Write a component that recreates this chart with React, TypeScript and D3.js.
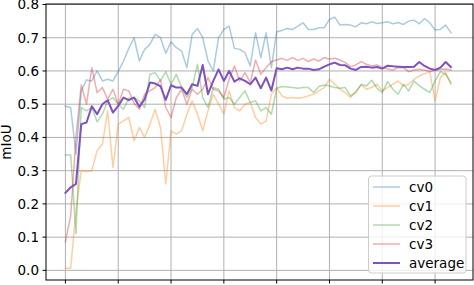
import * as d3 from 'd3';

// evaluated every 2 epochs
const epochs = d3.range(0, 148, 2);

const cv0 = [
  0.494, 0.49, 0.35, 0.54, 0.573, 0.57, 0.6, 0.57, 0.575, 0.57,
  0.598, 0.63, 0.668, 0.7, 0.63, 0.665, 0.68, 0.71, 0.7, 0.653,
  0.688, 0.67, 0.66, 0.61, 0.71, 0.728, 0.7, 0.63, 0.6, 0.7,
  0.725, 0.735, 0.668, 0.665, 0.655, 0.615, 0.715, 0.64, 0.715, 0.61,
  0.718, 0.722, 0.728, 0.725, 0.735, 0.745, 0.725, 0.725, 0.73, 0.73,
  0.755, 0.762, 0.738, 0.74, 0.738, 0.733, 0.745, 0.742, 0.748, 0.743,
  0.745, 0.748, 0.742, 0.746, 0.74, 0.75, 0.753, 0.742, 0.758, 0.745,
  0.723, 0.725, 0.738, 0.715,
];

const cv1 = [
  0.006, 0.006, 0.18, 0.3, 0.297, 0.3, 0.36, 0.38, 0.48, 0.31,
  0.44, 0.45, 0.46, 0.39, 0.43, 0.4, 0.44, 0.485, 0.43, 0.26,
  0.42, 0.41, 0.42, 0.47, 0.51, 0.47, 0.42, 0.48, 0.53, 0.5,
  0.47, 0.54, 0.49, 0.48, 0.5, 0.505, 0.46, 0.44, 0.45, 0.53,
  0.55, 0.525, 0.518, 0.52, 0.518, 0.52, 0.525, 0.53, 0.54, 0.55,
  0.575, 0.56, 0.545, 0.535, 0.52, 0.54, 0.558, 0.545, 0.55, 0.56,
  0.54, 0.55, 0.56, 0.57, 0.555, 0.56, 0.575, 0.585, 0.592, 0.597,
  0.51, 0.58, 0.595, 0.56,
];

const cv2 = [
  0.347, 0.347, 0.11, 0.49, 0.48, 0.49, 0.447, 0.47, 0.51, 0.52,
  0.5, 0.485, 0.518, 0.52, 0.51, 0.49, 0.59, 0.595, 0.57, 0.598,
  0.56, 0.59, 0.55, 0.52, 0.55, 0.62, 0.52, 0.49, 0.55, 0.545,
  0.515, 0.52, 0.5, 0.52, 0.54, 0.505, 0.51, 0.48, 0.49, 0.47,
  0.548, 0.553, 0.552, 0.55, 0.548, 0.55, 0.55, 0.535, 0.553, 0.558,
  0.555, 0.55, 0.548, 0.55, 0.525, 0.535, 0.56, 0.555, 0.572, 0.548,
  0.535, 0.568, 0.545, 0.53, 0.56, 0.54, 0.57, 0.555, 0.545, 0.535,
  0.57, 0.598, 0.59, 0.565,
];

const cv3 = [
  0.086, 0.165, 0.4, 0.558, 0.5, 0.61, 0.535, 0.55, 0.515, 0.545,
  0.5, 0.545, 0.54, 0.503, 0.485, 0.53, 0.54, 0.55, 0.573, 0.49,
  0.46, 0.52, 0.545, 0.5, 0.545, 0.53, 0.545, 0.58, 0.545, 0.54,
  0.52, 0.575, 0.615, 0.57, 0.595, 0.565, 0.633, 0.59, 0.61, 0.628,
  0.633, 0.638, 0.632, 0.64, 0.632, 0.638, 0.628, 0.636, 0.63, 0.64,
  0.636, 0.638, 0.633, 0.625, 0.613, 0.618, 0.628, 0.62, 0.615, 0.618,
  0.61, 0.606, 0.603, 0.61, 0.61, 0.598, 0.603, 0.605, 0.603, 0.598,
  0.602, 0.605, 0.606, 0.603,
];

const average = [
  0.233, 0.25, 0.26, 0.44, 0.445, 0.494, 0.47, 0.5, 0.512, 0.475,
  0.495, 0.52, 0.512, 0.52, 0.492, 0.515, 0.565, 0.562, 0.554, 0.513,
  0.557, 0.55, 0.55, 0.53, 0.56, 0.555, 0.618, 0.53, 0.57, 0.605,
  0.57, 0.6, 0.568, 0.578, 0.57, 0.56, 0.58, 0.548, 0.58, 0.541,
  0.608, 0.605, 0.61, 0.605, 0.61, 0.607, 0.607, 0.603, 0.605, 0.613,
  0.62, 0.625, 0.618, 0.617, 0.607, 0.603, 0.612, 0.613, 0.61, 0.612,
  0.607, 0.616, 0.614, 0.613, 0.612, 0.612, 0.613, 0.627, 0.615, 0.607,
  0.603, 0.61, 0.627, 0.612,
];

const xTicks = [0, 20, 40, 60, 80, 100, 120, 140];
const yTicks = [0.0, 0.1, 0.2, 0.3, 0.4, 0.5, 0.6, 0.7, 0.8];

const series = [
  { name: 'cv0', values: cv0, color: '#1f77b4', opacity: 0.38, width: 1.5 },
  { name: 'cv1', values: cv1, color: '#ff7f0e', opacity: 0.38, width: 1.5 },
  { name: 'cv2', values: cv2, color: '#2ca02c', opacity: 0.38, width: 1.5 },
  { name: 'cv3', values: cv3, color: '#d62728', opacity: 0.38, width: 1.5 },
  { name: 'average', values: average, color: '#8052bd', opacity: 1, width: 2 },
];

const W = 474;
const H = 285;
const left = 46;
const right = 473;
const top = 4;
const bottom = 280;
const font = '"DejaVu Sans", sans-serif';

export default function App() {
  const x = d3.scaleLinear().domain([-7.35, 154.35]).range([left, right]);
  const y = d3.scaleLinear().domain([-0.029, 0.8015]).range([bottom, top]);

  const line = d3
    .line<number>()
    .x((_, i) => x(epochs[i]))
    .y((d) => y(d));

  const legendX = 368.5;
  const legendY = 176;
  const rowH = 19;

  return (
    <svg
      width={W}
      height={H}
      style={{ position: 'absolute', left: 0, top: 0, background: '#fff' }}
      fontFamily={font}
    >
      <defs>
        <clipPath id="plot">
          <rect x={left} y={top} width={right - left} height={bottom - top} />
        </clipPath>
      </defs>

      {/* grid */}
      {xTicks.map((t) => (
        <line key={'gx' + t} x1={x(t)} x2={x(t)} y1={top} y2={bottom} stroke="#b0b0b0" strokeWidth={1} />
      ))}
      {yTicks.map((t) => (
        <line key={'gy' + t} x1={left} x2={right} y1={y(t)} y2={y(t)} stroke="#b0b0b0" strokeWidth={1} />
      ))}

      <g clipPath="url(#plot)" fill="none" strokeLinejoin="round" strokeLinecap="square">
        {series.map((s) => (
          <path
            key={s.name}
            d={line(s.values) || ''}
            stroke={s.color}
            strokeOpacity={s.opacity}
            strokeWidth={s.width}
          />
        ))}
      </g>

      {/* frame */}
      <rect x={left} y={top} width={right - left} height={bottom - top} fill="none" stroke="#000" strokeWidth={1} />

      {/* ticks */}
      {xTicks.map((t) => (
        <line key={'tx' + t} x1={x(t)} x2={x(t)} y1={bottom} y2={bottom + 3.5} stroke="#000" />
      ))}
      {yTicks.map((t) => (
        <g key={'ty' + t}>
          <line x1={left - 3.5} x2={left} y1={y(t)} y2={y(t)} stroke="#000" />
          <text x={left - 7} y={y(t)} dy="0.36em" textAnchor="end" fontSize={13.5} fill="#000">
            {d3.format('.1f')(t)}
          </text>
        </g>
      ))}

      <text
        transform={`translate(11, ${(top + bottom) / 2}) rotate(-90)`}
        textAnchor="middle"
        fontSize={13.5}
        fill="#000"
      >
        mIoU
      </text>

      {/* legend */}
      <rect
        x={legendX}
        y={legendY}
        width={97.5}
        height={97}
        rx={3}
        fill="#fff"
        fillOpacity={0.8}
        stroke="#cccccc"
        strokeWidth={1}
      />
      {series.map((s, i) => (
        <g key={'lg' + s.name} transform={`translate(${legendX + 4.5}, ${legendY + 11 + i * rowH})`}>
          <line x1={0} x2={27} y1={0} y2={0} stroke={s.color} strokeOpacity={s.opacity} strokeWidth={s.width} />
          <text x={36} y={0} dy="0.36em" fontSize={13.5} fill="#000">
            {s.name}
          </text>
        </g>
      ))}
    </svg>
  );
}
